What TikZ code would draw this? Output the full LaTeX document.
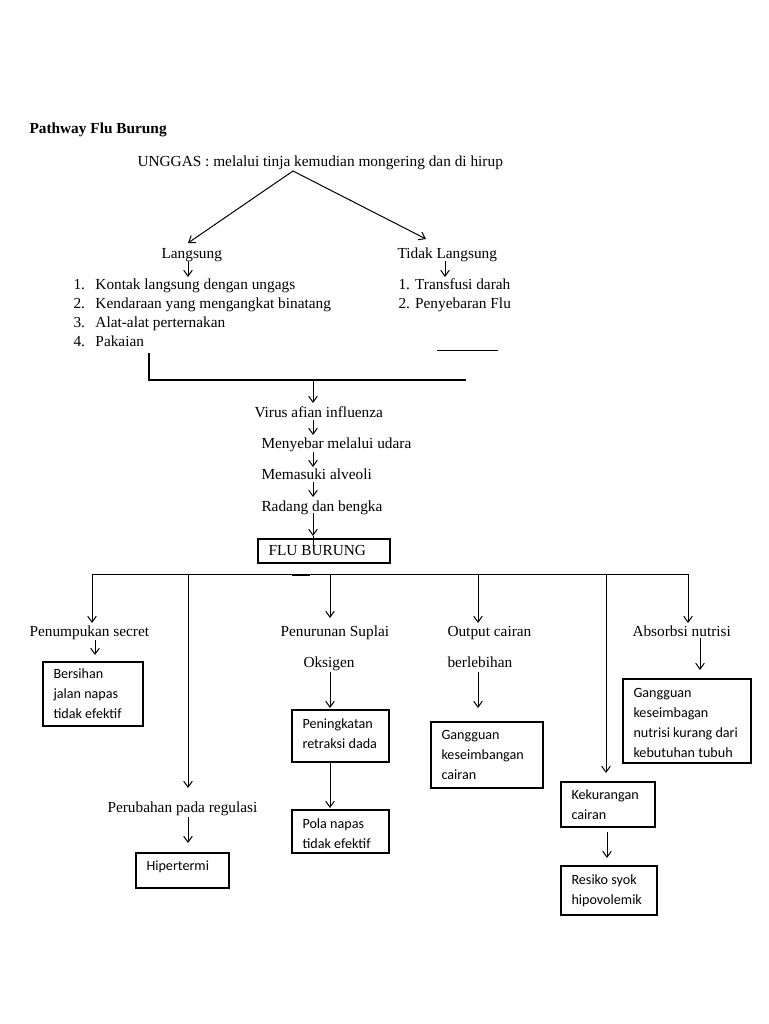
\documentclass[tikz,border=0pt]{standalone}
\usepackage{fontspec}
\setmainfont{Liberation Serif}
\newfontfamily\carlito{Carlito}
\usetikzlibrary{arrows.meta}
\begin{document}
\begin{tikzpicture}[x=0.75pt,y=-0.75pt,
  line width=0.75pt,
  arr/.style={-{Straight Barb[length=4.5pt,width=6.5pt,line width=0.75pt]}},
  lbl/.style={anchor=base west,inner sep=0,font=\fontsize{11.5}{14}\selectfont},
  bx/.style={draw,line width=1.8pt,inner sep=0},
  thinbx/.style={draw,line width=0.9pt,inner sep=0},
  btxt/.style={anchor=north west,inner sep=0,align=left,font=\carlito\fontsize{10.6}{15}\selectfont},
]
\useasboundingbox (0,0) rectangle (768,1024);
\fill[white] (0,0) rectangle (768,1024);

% title and top
\node[lbl,font=\fontsize{11.5}{14}\selectfont\bfseries] (title) at (29,133) {Pathway Flu Burung};
\node[lbl] (unggas) at (137,166) {UNGGAS : melalui tinja kemudian mongering dan di hirup};
\coordinate (apex) at (293,171);
\coordinate (ltip) at (188,243);
\coordinate (rtip) at (426,239);
\draw[arr] (apex) -- (ltip);
\draw[arr] (apex) -- (rtip);

\node[lbl] (lang) at (161,258) {Langsung};
\node[lbl] (tlang) at (397,258) {Tidak Langsung};
\coordinate (la1) at (188,261); \coordinate (la2) at (188,277);
\coordinate (ta1) at (445,261); \coordinate (ta2) at (445,277);
\draw[arr] (la1) -- (la2);
\draw[arr] (ta1) -- (ta2);

\node[lbl] (i1) at (73,289) {\makebox[16.5pt][l]{1.}Kontak langsung dengan ungags};
\node[lbl] (i2) at (73,308) {\makebox[16.5pt][l]{2.}Kendaraan yang mengangkat binatang};
\node[lbl] (i3) at (73,327) {\makebox[16.5pt][l]{3.}Alat-alat perternakan};
\node[lbl] (i4) at (73,346) {\makebox[16.5pt][l]{4.}Pakaian};
\node[lbl] (j1) at (398,289) {1. Transfusi darah};
\node[lbl] (j2) at (398,308) {2. Penyebaran Flu};

\coordinate (sl1) at (437,350); \coordinate (sl2) at (498,350);
\draw (sl1) -- (sl2);

\coordinate (brA) at (149,353); \coordinate (brB) at (149,380); \coordinate (brC) at (466,380);
\draw[line width=0.9pt] (brA) -- (brB) -- (brC);

% central chain
\coordinate (c0) at (313,380); \coordinate (c1) at (313,403);
\draw[arr] (c0) -- (c1);
\node[lbl] (virus) at (254,417) {Virus afian influenza};
\coordinate (c2) at (313,420); \coordinate (c3) at (313,435);
\draw[arr] (c2) -- (c3);
\node[lbl] (menyebar) at (261,448) {Menyebar melalui udara};
\coordinate (c4) at (313,452); \coordinate (c5) at (313,467);
\draw[arr] (c4) -- (c5);
\node[lbl] (memasuki) at (261,479) {Memasuki alveoli};
\coordinate (c6) at (313,482); \coordinate (c7) at (313,497);
\draw[arr] (c6) -- (c7);
\node[lbl] (radang) at (261,511) {Radang dan bengka};
\coordinate (c8) at (313,513); \coordinate (c9) at (313,536); \coordinate (c10) at (313,547);
\draw[arr] (c8) -- (c9);
\draw (c9) -- (c10);

\node[thinbx,minimum width=99pt,minimum height=18pt] (flu) at (324,551) {};
\node[lbl] (flutxt) at (268,555) {FLU BURUNG};

% bus
\coordinate (busL) at (92,574); \coordinate (busR) at (688,574);
\draw (busL) -- (busR);
\coordinate (blip1) at (292,575); \coordinate (blip2) at (310,575);
\draw[line width=1.1pt] (blip1) -- (blip2);

% branch 1
\coordinate (b1) at (92,623);
\draw[arr] (busL) -- (b1);
\node[lbl] (penum) at (29,636) {Penumpukan secret};
\coordinate (p1) at (95,640); \coordinate (p2) at (95,655);
\draw[arr] (p1) -- (p2);
\node[bx,minimum width=75pt,minimum height=48pt] (bersihan) at (93,694) {};
\node[btxt] (bersihantxt) at (53,664) {\strut Bersihan\\jalan napas\\tidak efektif};

% branch 2
\coordinate (b2a) at (188,574); \coordinate (b2) at (188,788);
\draw[arr] (b2a) -- (b2);
\node[lbl] (perubahan) at (107,812) {Perubahan pada regulasi};
\coordinate (q1) at (188,817); \coordinate (q2) at (188,843);
\draw[arr] (q1) -- (q2);
\node[bx,minimum width=69.75pt,minimum height=26.25pt] (hiper) at (182.5,870.5) {};
\node[btxt] (hipertxt) at (146,856) {\strut Hipertermi};

% branch 3
\coordinate (b3a) at (330,574); \coordinate (b3) at (330,618);
\draw[arr] (b3a) -- (b3);
\node[lbl] (penurunan) at (280,636) {Penurunan Suplai};
\node[lbl] (oksigen) at (303,667) {Oksigen};
\coordinate (o1) at (330,672); \coordinate (o2) at (330,708);
\draw[arr] (o1) -- (o2);
\node[bx,minimum width=72.75pt,minimum height=39pt] (pening) at (340.5,736) {};
\node[btxt] (peningtxt) at (302,714) {\strut Peningkatan\\retraksi dada};
\coordinate (o3) at (330,762); \coordinate (o4) at (330,808);
\draw[arr] (o3) -- (o4);
\node[bx,minimum width=72.75pt,minimum height=32.25pt] (pola) at (340.5,831.5) {};
\node[btxt] (polatxt) at (302,814) {\strut Pola napas\\tidak efektif};

% branch 4
\coordinate (b4a) at (478,574); \coordinate (b4) at (478,623);
\draw[arr] (b4a) -- (b4);
\node[lbl] (output) at (447,636) {Output cairan};
\node[lbl] (berleb) at (447,667) {berlebihan};
\coordinate (r1) at (478,672); \coordinate (r2) at (478,708);
\draw[arr] (r1) -- (r2);
\node[bx,minimum width=84pt,minimum height=49.5pt] (gangcair) at (487,755) {};
\node[btxt] (gangcairtxt) at (441,725) {\strut Gangguan\\keseimbangan\\cairan};

% branch 5
\coordinate (b5a) at (606,574); \coordinate (b5) at (606,773);
\draw[arr] (b5a) -- (b5);
\node[bx,minimum width=70.5pt,minimum height=33.75pt] (kekur) at (608,804.5) {};
\node[btxt] (kekurtxt) at (571,785) {\strut Kekurangan\\cairan};
\coordinate (k1) at (607,832); \coordinate (k2) at (607,858);
\draw[arr] (k1) -- (k2);
\node[thinbx,minimum width=72pt,minimum height=36.75pt] (resiko) at (609,890.5) {};
\node[btxt] (resikotxt) at (571,870) {\strut Resiko syok\\hipovolemik};

% branch 6
\coordinate (b6) at (688,623);
\draw[arr] (busR) -- (b6);
\node[lbl] (absorbsi) at (632,636) {Absorbsi nutrisi};
\coordinate (a1) at (700,638); \coordinate (a2) at (700,670);
\draw[arr] (a1) -- (a2);
\node[bx,minimum width=96pt,minimum height=63pt] (gangnut) at (687,721) {};
\node[btxt] (gangnuttxt) at (633,683) {\strut Gangguan\\keseimbagan\\nutrisi kurang dari\\kebutuhan tubuh};
\end{tikzpicture}
\end{document}
